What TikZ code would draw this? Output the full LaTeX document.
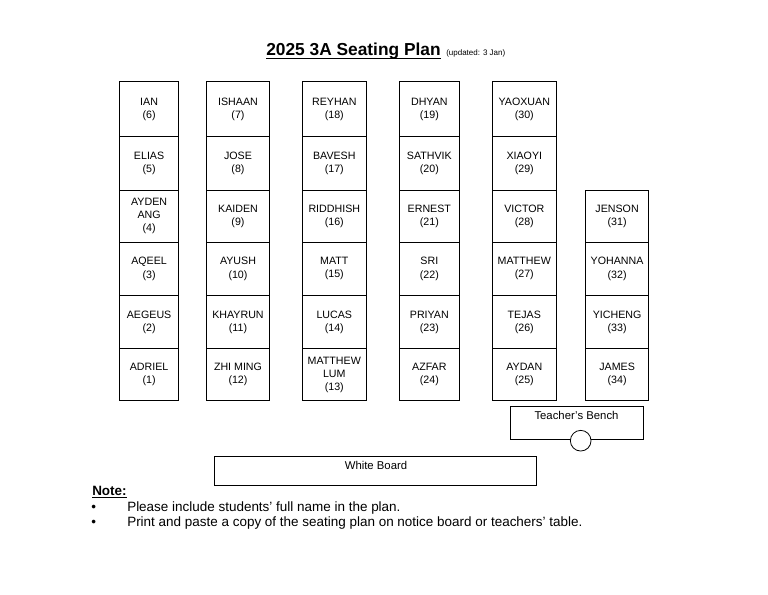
\documentclass[tikz,border=0pt]{standalone}
\usepackage{fontspec}
\setmainfont{Liberation Sans}
\usetikzlibrary{fit}
\begin{document}
\begin{tikzpicture}[x=0.75pt,y=-0.75pt,
  seat/.style={draw, line width=0.6pt, inner sep=0pt},
  seattxt/.style={inner sep=0pt, align=center, font=\fontsize{8}{9.8}\selectfont},
  boxx/.style={draw, line width=0.6pt, inner sep=0pt},
  lbl/.style={inner sep=0pt, font=\fontsize{8.5}{10}\selectfont},
  notetxt/.style={inner sep=0pt, anchor=base west, font=\fontsize{10.1}{12}\selectfont}]
\fill[white] (0,0) rectangle (768,594);
\useasboundingbox (0,0) rectangle (768,594);
\newcommand\seat[6]{\node[seat, fit={(#2,#4)(#3,#5)}] (#1) {};
  \node[seattxt] (#1t) at (#1.center) {#6};}
\def\ra{81.7}\def\rb{136.7}\def\rc{190}\def\rd{242}\def\re{295.7}\def\rf{348.3}\def\rg{400.7}
% title
\node[inner sep=0pt, anchor=base west, font=\fontsize{13}{15}\selectfont\bfseries] (title) at (266,55.7) {2025 3A Seating Plan};
\draw[line width=0.9pt] ([yshift=-1.9pt]title.base west) -- ([yshift=-1.9pt]title.base east);
\node[inner sep=0pt, anchor=base west, font=\fontsize{6}{7}\selectfont] (upd) at (446,55.7) {(updated: 3 Jan)};
% column 1
\seat{s6}{119.5}{178.7}{\ra}{\rb}{IAN\\(6)}
\seat{s5}{119.5}{178.7}{\rb}{\rc}{ELIAS\\(5)}
\seat{s4}{119.5}{178.7}{\rc}{\rd}{AYDEN\\ANG\\(4)}
\seat{s3}{119.5}{178.7}{\rd}{\re}{AQEEL\\(3)}
\seat{s2}{119.5}{178.7}{\re}{\rf}{AEGEUS\\(2)}
\seat{s1}{119.5}{178.7}{\rf}{\rg}{ADRIEL\\(1)}
% column 2
\seat{s7}{206.7}{269.3}{\ra}{\rb}{ISHAAN\\(7)}
\seat{s8}{206.7}{269.3}{\rb}{\rc}{JOSE\\(8)}
\seat{s9}{206.7}{269.3}{\rc}{\rd}{KAIDEN\\(9)}
\seat{s10}{206.7}{269.3}{\rd}{\re}{AYUSH\\(10)}
\seat{s11}{206.7}{269.3}{\re}{\rf}{KHAYRUN\\(11)}
\seat{s12}{206.7}{269.3}{\rf}{\rg}{ZHI MING\\(12)}
% column 3
\seat{s18}{302.3}{366.3}{\ra}{\rb}{REYHAN\\(18)}
\seat{s17}{302.3}{366.3}{\rb}{\rc}{BAVESH\\(17)}
\seat{s16}{302.3}{366.3}{\rc}{\rd}{RIDDHISH\\(16)}
\seat{s15}{302.3}{366.3}{\rd}{\re}{MATT\\(15)}
\seat{s14}{302.3}{366.3}{\re}{\rf}{LUCAS\\(14)}
\seat{s13}{302.3}{366.3}{\rf}{\rg}{MATTHEW\\LUM\\(13)}
% column 4
\seat{s19}{399}{459.7}{\ra}{\rb}{DHYAN\\(19)}
\seat{s20}{399}{459.7}{\rb}{\rc}{SATHVIK\\(20)}
\seat{s21}{399}{459.7}{\rc}{\rd}{ERNEST\\(21)}
\seat{s22}{399}{459.7}{\rd}{\re}{SRI\\(22)}
\seat{s23}{399}{459.7}{\re}{\rf}{PRIYAN\\(23)}
\seat{s24}{399}{459.7}{\rf}{\rg}{AZFAR\\(24)}
% column 5
\seat{s30}{492.3}{556.3}{\ra}{\rb}{YAOXUAN\\(30)}
\seat{s29}{492.3}{556.3}{\rb}{\rc}{XIAOYI\\(29)}
\seat{s28}{492.3}{556.3}{\rc}{\rd}{VICTOR\\(28)}
\seat{s27}{492.3}{556.3}{\rd}{\re}{MATTHEW\\(27)}
\seat{s26}{492.3}{556.3}{\re}{\rf}{TEJAS\\(26)}
\seat{s25}{492.3}{556.3}{\rf}{\rg}{AYDAN\\(25)}
% column 6
\seat{s31}{585.7}{648.5}{\rc}{\rd}{JENSON\\(31)}
\seat{s32}{585.7}{648.5}{\rd}{\re}{YOHANNA\\(32)}
\seat{s33}{585.7}{648.5}{\re}{\rf}{YICHENG\\(33)}
\seat{s34}{585.7}{648.5}{\rf}{\rg}{JAMES\\(34)}
% teacher's bench
\node[boxx, fit={(510.7,406)(643.3,439.3)}] (bench) {};
\node[lbl] (benchlbl) at (576.5,415.5) {Teacher's Bench};
\node[draw, circle, line width=0.6pt, fill=white, inner sep=0pt, minimum size=15.5pt] (chair) at (580.7,440.7) {};
% white board
\node[boxx, fit={(214,456)(536.7,485.5)}] (wb) {};
\node[lbl] (wblbl) at (376,465.5) {White Board};
% note
\node[inner sep=0pt, anchor=base west, font=\fontsize{10.1}{12}\selectfont\bfseries] (note) at (92,495) {Note:};
\draw[line width=0.7pt] ([yshift=-1.5pt]note.base west) -- ([yshift=-1.5pt]note.base east);
\node[notetxt] (b1) at (91,511) {•};
\node[notetxt] (t1) at (127,511) {Please include students’ full name in the plan.};
\node[notetxt] (b2) at (91,526) {•};
\node[notetxt] (t2) at (127,526) {Print and paste a copy of the seating plan on notice board or teachers’ table.};
\end{tikzpicture}
\end{document}
